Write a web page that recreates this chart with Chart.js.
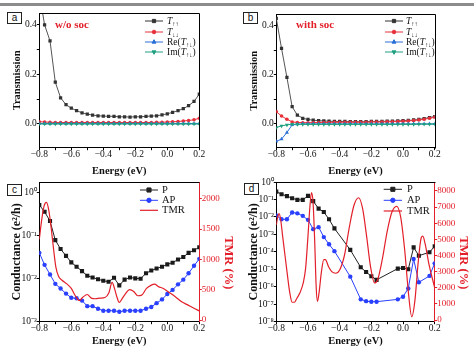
<!DOCTYPE html>
<html><head><meta charset="utf-8">
<script src="https://cdn.jsdelivr.net/npm/chart.js@4.4.1/dist/chart.umd.min.js"></script>
<style>
html,body{margin:0;padding:0;background:#fff;}
#wrap{position:relative;width:474px;height:353px;overflow:hidden;background:#fff;}
canvas{position:absolute;}
.lbl{position:absolute;font-family:"Liberation Sans",Arial,sans-serif;font-size:10px;border:1px solid #222;line-height:10px;width:13px;height:10px;text-align:center;background:#fff;color:#111}
.soc{position:absolute;font-family:"Liberation Serif",serif;font-weight:bold;color:#e3202a;font-size:11px;line-height:12px;white-space:nowrap}
</style></head>
<body><div id="wrap">
<div style="position:absolute;left:0;top:3px;width:474px;height:3px;background:#8c8c8c"></div>
<canvas id="ca" width="237" height="176" style="left:0;top:0;width:237px;height:176px"></canvas>
<canvas id="cb" width="237" height="176" style="left:237px;top:0;width:237px;height:176px"></canvas>
<canvas id="cc" width="237" height="177" style="left:0;top:176px;width:237px;height:177px"></canvas>
<canvas id="cd" width="237" height="177" style="left:237px;top:176px;width:237px;height:177px"></canvas>
<div class="lbl" style="left:7px;top:12px">a</div>
<div class="lbl" style="left:243px;top:12px">b</div>
<div class="lbl" style="left:7px;top:184px">c</div>
<div class="lbl" style="left:244px;top:183px">d</div>
<div class="soc" style="left:55px;top:18px">w/o soc</div>
<div class="soc" style="left:296px;top:18px">with soc</div>
</div>
<script>
const FONT = "'Liberation Serif','Times New Roman',serif";

// ---------- data ----------
const energyGrid = [-0.8,-0.767,-0.733,-0.7,-0.667,-0.633,-0.6,-0.567,-0.533,-0.5,-0.467,-0.433,-0.4,-0.367,-0.333,-0.3,-0.267,-0.233,-0.2,-0.167,-0.133,-0.1,-0.067,-0.033,0,0.033,0.067,0.1,0.133,0.167,0.2];

// panel a (w/o soc)
const tUpUpA = [0.53,0.40,0.335,0.168,0.105,0.077,0.063,0.053,0.044,0.039,0.035,0.032,0.031,0.030,0.030,0.028,0.028,0.027,0.028,0.028,0.030,0.031,0.032,0.036,0.040,0.046,0.053,0.061,0.073,0.090,0.120];
const tDnDnA = [0.008,0.007,0.006,0.005,0.005,0.005,0.005,0.005,0.005,0.005,0.005,0.005,0.005,0.005,0.005,0.005,0.005,0.005,0.005,0.005,0.005,0.005,0.006,0.006,0.007,0.008,0.009,0.011,0.013,0.016,0.022];
const reUpDnA = [0.001,0.001,0.001,0.001,0.001,0.001,0.001,0.001,0.001,0.001,0.001,0.001,0.001,0.001,0.001,0.001,0.001,0.001,0.001,0.001,0.001,0.001,0.001,0.001,0.001,0.001,0.001,0.001,0.001,0.001,0.001];
const imUpDnA = [-0.001,-0.001,-0.001,-0.001,-0.001,-0.001,-0.001,-0.001,-0.001,-0.001,-0.001,-0.001,-0.001,-0.001,-0.001,-0.001,-0.001,-0.001,-0.001,-0.001,-0.001,-0.001,-0.001,-0.001,-0.001,-0.001,-0.001,-0.001,-0.001,-0.001,-0.001];

// panel b (with soc)
const tUpUpB = [0.43,0.308,0.19,0.07,0.036,0.023,0.018,0.015,0.013,0.012,0.011,0.010,0.010,0.010,0.009,0.009,0.009,0.009,0.010,0.010,0.010,0.011,0.011,0.012,0.013,0.014,0.016,0.018,0.022,0.026,0.030];
const tDnDnB = [0.05,0.032,0.019,0.008,0.006,0.005,0.005,0.005,0.006,0.006,0.006,0.007,0.007,0.007,0.007,0.007,0.007,0.007,0.008,0.008,0.008,0.009,0.009,0.010,0.011,0.012,0.014,0.016,0.019,0.023,0.027];
const reUpDnB = [-0.071,-0.062,-0.035,-0.004,-0.001,0,0,0,0,0,0,0,0,0,0,0,0,0,0,0,0,0,0,0,0,0,0,0,0,0,0];
const imUpDnB = [-0.015,-0.008,-0.004,-0.001,-0.002,-0.002,-0.002,-0.002,-0.002,-0.002,-0.002,-0.002,-0.002,-0.002,-0.002,-0.002,-0.002,-0.002,-0.002,-0.002,-0.002,-0.002,-0.002,-0.002,-0.002,-0.002,-0.002,-0.001,-0.001,-0.001,-0.001];

// panel c
const condPC  = [0.52,0.36,0.22,0.079,0.049,0.034,0.024,0.019,0.015,0.0117,0.0107,0.0097,0.0090,0.0085,0.0105,0.0070,0.0095,0.0107,0.0102,0.0100,0.0134,0.0155,0.0173,0.019,0.0216,0.0236,0.028,0.032,0.040,0.046,0.054];
const condAPC = [0.040,0.021,0.0125,0.0076,0.0059,0.0045,0.0036,0.0035,0.0031,0.0023,0.0023,0.0020,0.0018,0.0018,0.0018,0.0017,0.0018,0.0018,0.0018,0.0018,0.0020,0.0022,0.0027,0.0033,0.0044,0.0055,0.0074,0.0095,0.0134,0.020,0.029];
const tmrEnergyC = [-0.8,-0.785,-0.77,-0.755,-0.74,-0.725,-0.71,-0.697,-0.68,-0.66,-0.63,-0.6,-0.575,-0.55,-0.53,-0.5,-0.475,-0.45,-0.42,-0.39,-0.365,-0.345,-0.33,-0.315,-0.3,-0.285,-0.265,-0.235,-0.21,-0.185,-0.16,-0.13,-0.1,-0.08,-0.055,-0.025,0.005,0.05,0.09,0.13,0.17,0.2];
const tmrC = [1330,1650,1880,1940,1800,1500,1150,880,720,660,600,520,400,320,370,420,360,350,360,370,450,620,520,380,290,340,420,500,470,400,410,520,575,590,550,520,465,385,300,245,190,150];

// panel d
const energyD = [-0.8,-0.767,-0.733,-0.7,-0.667,-0.633,-0.6,-0.567,-0.533,-0.5,-0.467,-0.433,-0.333,-0.267,-0.233,-0.2,-0.167,-0.033,0,0.033,0.067,0.1,0.167,0.2];
const condPD  = [0.28,0.20,0.155,0.118,0.095,0.095,0.16,0.08,0.030,0.019,0.0073,0.0022,1.3e-4,1.3e-5,7e-6,4e-6,2.5e-6,1.1e-5,1.2e-5,1.0e-5,1.8e-4,6e-5,9.5e-5,2.1e-4];
const condAPD = [0.012,0.0073,0.0073,0.018,0.016,0.0115,0.0068,0.002,0.0026,7e-4,2.7e-4,1.1e-4,3.8e-6,1.9e-7,1.5e-7,1.4e-7,1.4e-7,1.9e-7,2.7e-7,8e-7,3.9e-5,1.8e-6,4.2e-6,2.2e-5];
const tmrEnergyD = [-0.8,-0.79,-0.782,-0.772,-0.76,-0.745,-0.73,-0.715,-0.7,-0.685,-0.67,-0.65,-0.63,-0.615,-0.6,-0.588,-0.578,-0.568,-0.558,-0.548,-0.54,-0.53,-0.515,-0.5,-0.49,-0.47,-0.45,-0.425,-0.4,-0.37,-0.34,-0.31,-0.28,-0.255,-0.23,-0.205,-0.18,-0.16,-0.13,-0.1,-0.07,-0.04,-0.015,0.01,0.035,0.055,0.075,0.095,0.115,0.125,0.14,0.165,0.2];
const tmrD = [5900,6450,6600,6200,5200,4000,2800,1700,1100,1100,1350,1700,2300,3200,5200,7000,7900,7300,5000,2000,1150,1700,3000,3750,3750,3300,3000,2900,3100,4000,5700,7100,7580,6900,5200,3300,2300,2500,3800,5500,6700,7050,6400,4400,1600,200,1200,3500,5100,5200,4700,3400,2000];

// ticks
const xTickVals = [-0.8,-0.7,-0.6,-0.5,-0.4,-0.3,-0.2,-0.1,0,0.1,0.2];
const xTickLabels = ['−0.8','','−0.6','','−0.4','','−0.2','','0.0','','0.2'];
const transTickVals = [0,0.1,0.2,0.3,0.4];
const transTickLabels = ['0.0','','0.2','','0.4'];
const logTickValsC = [1e-3,1e-2,1e-1,1];
const logTickLabelsC = ['10⁻³','10⁻²','10⁻¹','10⁰'];
const logTickValsD = [1e-8,1e-7,1e-6,1e-5,1e-4,1e-3,1e-2,1e-1,1];
const logTickLabelsD = ['10⁻⁸','10⁻⁷','10⁻⁶','10⁻⁵','10⁻⁴','10⁻³','10⁻²','10⁻¹','10⁰'];
const tmrTickValsC = [0,500,1000,1500,2000];
const tmrTickValsD = [0,1000,2000,3000,4000,5000,6000,7000,8000];

// ---------- helpers ----------
const pts = (xs, ys) => xs.map((x, i) => ({x: x, y: ys[i]}));
const C = {black:'#333333', red:'#e8303a', blue:'#2a6fd6', green:'#20a080', pBlack:'#1a1a1a', apBlue:'#2a40ff', tmrRed:'#e3202a'};

function xScale(h, pb, tp) {
  return {
    type:'linear', position:'bottom', min:-0.8, max:0.2,
    afterBuildTicks: s => { s.ticks = xTickVals.map(v => ({value:v})); },
    afterFit: s => { s.height = h; },
    ticks:{autoSkip:false, maxRotation:0, minRotation:0, padding:tp, color:'#111',
      font:{family:FONT, size:9.5, lineHeight:1}, callback:(v, i) => xTickLabels[i]},
    grid:{drawOnChartArea:false, drawTicks:true, tickLength:2.5, tickColor:'#000', tickWidth:1},
    border:{display:true, color:'#000', width:1},
    title:{display:true, text:'Energy (eV)', color:'#111',
      font:{family:FONT, size:10.5, weight:'bold', lineHeight:1}, padding:{top:0, bottom:pb}}
  };
}
function frame(drawRight) {
  return {id:'frame'+Math.random(), afterDraw(chart) {
    const a = chart.chartArea, ctx = chart.ctx;
    ctx.save(); ctx.strokeStyle = '#000'; ctx.lineWidth = 1;
    ctx.beginPath();
    const t = Math.round(a.top) + 0.5, r = Math.round(a.right) + 0.5;
    ctx.moveTo(Math.round(a.left), t); ctx.lineTo(r, t);
    if (drawRight) ctx.lineTo(r, Math.round(a.bottom) + 0.5);
    ctx.stroke(); ctx.restore();
  }};
}
function drawMarker(ctx, style, r, rot, x, y) {
  if (Chart.helpers && Chart.helpers.drawPoint) {
    Chart.helpers.drawPoint(ctx, {pointStyle:style, radius:r, rotation:rot || 0, borderWidth:1}, x, y);
  } else {
    ctx.beginPath(); ctx.arc(x, y, r, 0, Math.PI * 2); ctx.fill(); ctx.stroke();
  }
}
function legend(cfg) {
  return {id:'legend'+Math.random(), afterDraw(chart) {
    const ctx = chart.ctx; ctx.save();
    cfg.items.forEach((it, i) => {
      const y = cfg.ys[i];
      ctx.strokeStyle = it.color; ctx.lineWidth = it.lw || 1;
      ctx.beginPath(); ctx.moveTo(cfg.x0, y); ctx.lineTo(cfg.x1, y); ctx.stroke();
      if (it.ps) {
        ctx.fillStyle = it.color; ctx.lineWidth = 1;
        drawMarker(ctx, it.ps, it.r, it.rot, (cfg.x0 + cfg.x1) / 2, y);
      }
      let x = cfg.tx;
      ctx.fillStyle = '#111'; ctx.textBaseline = 'middle'; ctx.textAlign = 'left';
      it.parts.forEach(p => {
        let f, dy = 0;
        if (p[1] === 'i') f = 'italic ' + cfg.size + 'px ' + FONT;
        else if (p[1] === 's') { f = (cfg.size * 0.68) + 'px ' + FONT; dy = cfg.size * 0.32; }
        else f = cfg.size + 'px ' + FONT;
        ctx.font = f; ctx.fillText(p[0], x, y + dy); x += ctx.measureText(p[0]).width;
      });
    });
    ctx.restore();
  }};
}

Chart.defaults.font.family = FONT;
Chart.defaults.animation = false;

function transChart(id, tuu, tdd, re, im, top, rightPad, leg) {
  return new Chart(document.getElementById(id), {
    type:'line',
    data:{datasets:[
      {label:'Tuu', data:pts(energyGrid, tuu), borderColor:'#555', backgroundColor:C.black, pointBackgroundColor:C.black, pointBorderColor:C.black, borderWidth:1, pointStyle:'rect', pointRadius:2.3, pointBorderWidth:0, order:3},
      {label:'Tdd', data:pts(energyGrid, tdd), borderColor:C.red, backgroundColor:C.red, pointBackgroundColor:C.red, pointBorderColor:C.red, borderWidth:1, pointStyle:'circle', pointRadius:1.8, pointBorderWidth:0, order:2},
      {label:'Re', data:pts(energyGrid, re), borderColor:C.blue, backgroundColor:C.blue, pointBackgroundColor:C.blue, pointBorderColor:C.blue, borderWidth:1, pointStyle:'triangle', pointRadius:2.3, pointBorderWidth:0, order:1},
      {label:'Im', data:pts(energyGrid, im), borderColor:C.green, backgroundColor:C.green, pointBackgroundColor:C.green, pointBorderColor:C.green, borderWidth:1, pointStyle:'triangle', pointRotation:180, pointRadius:2.3, pointBorderWidth:0, order:0}
    ]},
    options:{
      responsive:false, devicePixelRatio:1, animation:false,
      layout:{padding:{left:0, top:top, right:rightPad, bottom:0}},
      plugins:{legend:{display:false}, tooltip:{enabled:false}},
      elements:{line:{tension:0}},
      scales:{
        x:xScale(176 - 147.7, -0.95, -0.5),
        y:{type:'linear', position:'left', min:-0.097, max:0.448,
          afterBuildTicks: s => { s.ticks = transTickVals.map(v => ({value:v})); },
          afterFit: s => { s.width = 39.3; },
          ticks:{padding:0, color:'#111', font:{family:FONT, size:9.5, lineHeight:1}, callback:(v, i) => transTickLabels[i]},
          grid:{drawOnChartArea:false, drawTicks:true, tickLength:2.5, tickColor:'#000'},
          border:{display:true, color:'#000', width:1},
          title:{display:true, text:'Transmission', color:'#111', font:{family:FONT, size:10.5, weight:'bold', lineHeight:1}, padding:{top:11.75, bottom:0}}
        }
      }
    },
    plugins:[frame(true), legend(leg)]
  });
}

const legItemsAB = [
  {color:C.black, ps:'rect', r:2.3, parts:[['T','i'],['↑↑','s']]},
  {color:C.red, ps:'circle', r:1.8, parts:[['T','i'],['↓↓','s']]},
  {color:C.blue, ps:'triangle', r:2.3, parts:[['Re(',''],['T','i'],['↑↓','s'],[')','']]},
  {color:C.green, ps:'triangle', r:2.3, rot:180, parts:[['Im(',''],['T','i'],['↑↓','s'],[')','']]}
];
transChart('ca', tUpUpA, tDnDnA, reUpDnA, imUpDnA, 13, 237 - 199.3, {x0:145, x1:163, tx:167, ys:[21,32,42,52], size:9.5, items:legItemsAB});
transChart('cb', tUpUpB, tDnDnB, reUpDnB, imUpDnB, 14, 237 - 197.7, {x0:148, x1:166, tx:169, ys:[21,32,42,52], size:9.5, items:legItemsAB});

function condChart(id, ex, pP, pAP, tx, ty, logMin, logMax, logVals, logLabels, tmrMin, tmrMax, tmrVals, rightW, rightPT, leg) {
  return new Chart(document.getElementById(id), {
    type:'line',
    data:{datasets:[
      {label:'P', data:pts(ex, pP), yAxisID:'y', borderColor:'#222', pointBackgroundColor:C.pBlack, pointBorderColor:C.pBlack, borderWidth:1, pointStyle:'rect', pointRadius:2.9, pointBorderWidth:0, order:2},
      {label:'AP', data:pts(ex, pAP), yAxisID:'y', borderColor:C.apBlue, pointBackgroundColor:C.apBlue, pointBorderColor:C.apBlue, borderWidth:1, pointStyle:'circle', pointRadius:2.2, pointBorderWidth:0, order:1},
      {label:'TMR', data:pts(tx, ty), yAxisID:'y2', borderColor:C.tmrRed, borderWidth:1.2, pointRadius:0, cubicInterpolationMode:'monotone', order:0}
    ]},
    options:{
      responsive:false, devicePixelRatio:1, animation:false,
      layout:{padding:{left:0, top:6, right:0, bottom:0}},
      plugins:{legend:{display:false}, tooltip:{enabled:false}},
      elements:{line:{tension:0}},
      scales:{
        x:xScale(177 - 145.7, 6.05, -0.3),
        y:{type:'logarithmic', position:'left', min:logMin, max:logMax,
          afterBuildTicks: s => { s.ticks = logVals.map(v => ({value:v})); },
          afterFit: s => { s.width = 39.3; },
          ticks:{padding:0, color:'#111', font:{family:FONT, size:9.5, lineHeight:1}, callback:(v, i) => logLabels[i]},
          grid:{drawOnChartArea:false, drawTicks:true, tickLength:2.5, tickColor:'#000'},
          border:{display:true, color:'#000', width:1},
          title:{display:true, text:'Conductance (e²/h)', color:'#111', font:{family:FONT, size:12, weight:'bold', lineHeight:1}, padding:{top:10.7, bottom:0}}
        },
        y2:{type:'linear', position:'right', min:tmrMin, max:tmrMax,
          afterBuildTicks: s => { s.ticks = tmrVals.map(v => ({value:v})); },
          afterFit: s => { s.width = rightW; },
          ticks:{padding:0, color:C.tmrRed, font:{family:FONT, size:9, lineHeight:1}, callback:(v) => String(v)},
          grid:{drawOnChartArea:false, drawTicks:true, tickLength:2.5, tickColor:C.tmrRed},
          border:{display:true, color:C.tmrRed, width:1},
          title:{display:true, text:'       TMR (%)', color:C.tmrRed, font:{family:FONT, size:12.5, weight:'bold', lineHeight:1}, padding:{top:rightPT, bottom:0}}
        }
      }
    },
    plugins:[frame(false), legend(leg)]
  });
}

const legItemsCD = [
  {color:'#222', ps:'rect', r:2.9, parts:[['P','']]},
  {color:C.apBlue, ps:'circle', r:2.2, parts:[['AP','']]},
  {color:C.tmrRed, lw:1.2, parts:[['TMR','']]}
];
condChart('cc', energyGrid, condPC, condAPC, tmrEnergyC, tmrC, 1e-3, 1.778, logTickValsC, logTickLabelsC, -28, 2275, tmrTickValsC, 237 - 199.3, 2.75,
  {x0:140, x1:158, tx:162, ys:[14,24.3,34.3], size:10.5, items:legItemsCD});
condChart('cd', energyD, condPD, condAPD, tmrEnergyD, tmrD, 1e-8, 1, logTickValsD, logTickLabelsD, -105, 8558, tmrTickValsD, 237 - 197.7, 4.05,
  {x0:146.7, x1:165, tx:170, ys:[13.3,24.3,35], size:10.5, items:legItemsCD});
</script>
</body></html>
